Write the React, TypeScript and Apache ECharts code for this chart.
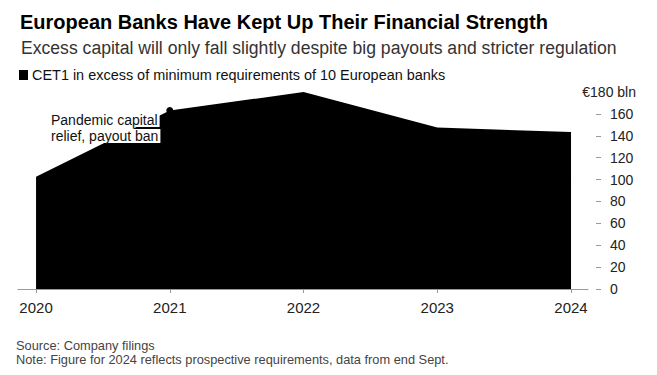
import React, { useEffect, useRef } from "react";
import * as echarts from "echarts";

const years = [2020, 2021, 2022, 2023, 2024];
const excessCapital = [102.5, 163, 180, 147.5, 143.5];
const yTicks = [0, 20, 40, 60, 80, 100, 120, 140, 160];
const markedYear = 2021;

const FONT = "'Liberation Sans', Arial, sans-serif";

export default function App() {
  const ref = useRef<HTMLDivElement>(null);
  useEffect(() => {
    if (!ref.current) return;
    const chart = echarts.init(ref.current, undefined, { renderer: "svg" });
    const data = years.map((y, i) =>
      y === markedYear
        ? { value: [y, excessCapital[i]], symbol: "circle", symbolSize: 7 }
        : { value: [y, excessCapital[i]] }
    );
    chart.setOption({
      animation: false,
      backgroundColor: "#fff",
      textStyle: { fontFamily: FONT },
      title: [
        {
          text: "European Banks Have Kept Up Their Financial Strength",
          left: 15,
          top: 7,
          textStyle: { fontFamily: FONT, fontWeight: "bold", fontSize: 20, color: "#000" },
        },
        {
          text: "Excess capital will only fall slightly despite big payouts and stricter regulation",
          left: 16,
          top: 34,
          textStyle: { fontFamily: FONT, fontWeight: "normal", fontSize: 17.6, color: "#333" },
        },
        {
          text: "Source: Company filings",
          left: 16,
          top: 339,
          padding: 0,
          textStyle: { fontFamily: FONT, fontWeight: "normal", fontSize: 12.8, lineHeight: 13, color: "#444" },
        },
        {
          text: "Note: Figure for 2024 reflects prospective requirements, data from end Sept.",
          left: 16,
          top: 353,
          padding: 0,
          textStyle: { fontFamily: FONT, fontWeight: "normal", fontSize: 12.8, lineHeight: 13, color: "#444" },
        },
      ],
      legend: {
        left: 14,
        top: 63,
        icon: "rect",
        itemWidth: 9,
        itemHeight: 10,
        itemGap: 5,
        textStyle: { fontFamily: FONT, fontSize: 14.45, color: "#111", padding: [0, 0, 0, -1] },
        data: ["CET1 in excess of minimum requirements of 10 European banks"],
      },
      grid: { left: 18, right: 69, top: 92, bottom: 86, containLabel: false },
      xAxis: {
        type: "value",
        min: 2019.865,
        max: 2024.127,
        axisLine: { show: true, lineStyle: { color: "#999", width: 1 } },
        axisTick: { show: true, length: 4, customValues: years, lineStyle: { color: "#999" } },
        axisLabel: {
          customValues: years,
          margin: 11,
          fontSize: 15,
          color: "#222",
          fontFamily: FONT,
          formatter: (v: number) => String(v),
        },
        splitLine: { show: false },
      },
      yAxis: {
        type: "value",
        position: "right",
        min: 0,
        max: 180,
        interval: 20,
        offset: 8,
        axisLine: { show: false },
        axisTick: { show: true, length: 5, inside: false, customValues: yTicks, lineStyle: { color: "#999" } },
        axisLabel: {
          customValues: yTicks,
          margin: 14,
          fontSize: 14,
          color: "#222",
          fontFamily: FONT,
          align: "left",
        },
        splitLine: { show: false },
      },
      graphic: [
        {
          type: "text",
          right: 21,
          top: 85,
          style: { text: "€180 bln", font: `14px ${FONT}`, fill: "#222" },
        },
        {
          type: "text",
          left: 50,
          top: 113,
          z: 100,
          style: {
            text: "{a|Pandemic capital}\n{a|relief, payout ban}",
            font: `14px ${FONT}`,
            fill: "#111",
            rich: {
              a: {
                fontFamily: FONT,
                fontSize: 14,
                lineHeight: 16,
                color: "#111",
                backgroundColor: "#fff",
                padding: [0, 2, 0, 1],
              },
            },
          },
        },
      ],
      series: [
        {
          name: "CET1 in excess of minimum requirements of 10 European banks",
          type: "line",
          data,
          symbol: "none",
          showSymbol: true,
          lineStyle: { width: 0, color: "#000" },
          itemStyle: { color: "#000" },
          areaStyle: { color: "#000", opacity: 1 },
        },
      ],
    });
    return () => chart.dispose();
  }, []);
  return <div ref={ref} style={{ width: 657, height: 375, position: "absolute", left: 0, top: 0 }} />;
}
